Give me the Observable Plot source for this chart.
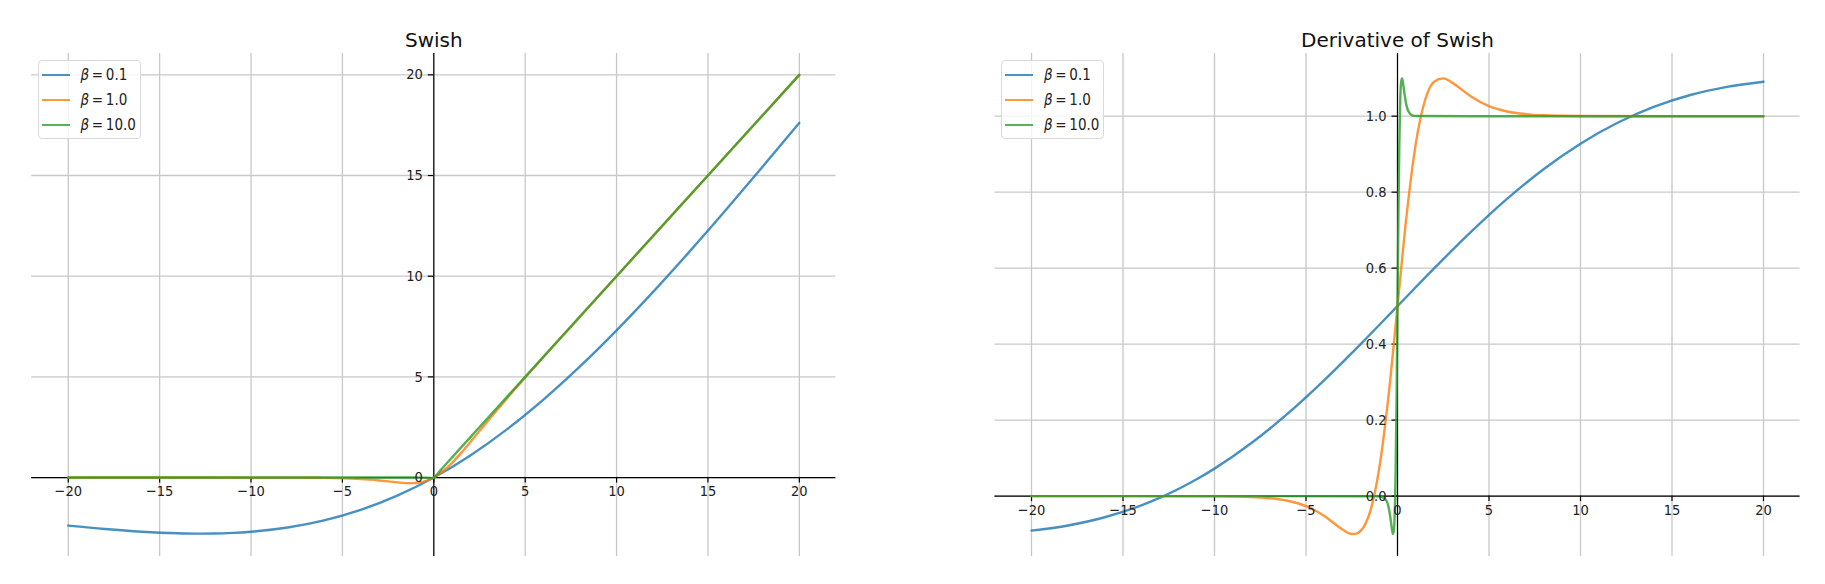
<!DOCTYPE html>
<html>
<head>
<meta charset="utf-8">
<script src="https://cdn.jsdelivr.net/npm/d3@7"></script>
<script src="https://cdn.jsdelivr.net/npm/@observablehq/plot@0.6"></script>
<style>
  body { margin: 0; background: #fff; }
  #fig { position: relative; width: 1825px; height: 584px; overflow: hidden; background: #fff; }
  .panel { position: absolute; top: 0; }
  .legend { position: absolute; border: 1px solid #d9d9d9; border-radius: 4px; background: rgba(255,255,255,0.8); box-sizing: border-box; }
  .legend .sw { position: absolute; height: 0; border-top-style: solid; }
  .legend .lb { position: absolute; font-family: "DejaVu Sans Condensed", "DejaVu Sans", sans-serif; font-size: 15px; color: #222; line-height: 1; white-space: nowrap; transform: translateY(-50%); }
</style>
</head>
<body>
<div id="fig"></div>
<script>
// ---- tick values ----
const xTicks = [-20, -15, -10, -5, 0, 5, 10, 15, 20];
const swishYTicks = [0, 5, 10, 15, 20];
const derivYTicks = [0, 0.2, 0.4, 0.6, 0.8, 1.0];

// ---- series labels / colours ----
const betas = ["0.1", "1.0", "10.0"];
const colors = ["#1f77b4", "#ff7f0e", "#2ca02c"];

// ---- beta = 0.1 ----
const xB01 = [-20, -18, -16, -14, -13, -12, -11, -10, -8, -6, -4, -2, 0, 2, 4, 6, 8, 10, 12, 14, 16, 18, 20];
const swishB01 = [-2.384, -2.554, -2.688, -2.769, -2.785, -2.778, -2.747, -2.689, -2.480, -2.126, -1.605, -0.900, 0, 1.100, 2.395, 3.874, 5.520, 7.311, 9.222, 11.231, 13.312, 15.446, 17.616];
const derivB01 = [-0.0908, -0.0773, -0.0557, -0.0243, -0.0046, 0.0180, 0.0436, 0.0723, 0.1389, 0.2170, 0.3052, 0.4007, 0.5, 0.5993, 0.6948, 0.7830, 0.8611, 0.9277, 0.9820, 1.0243, 1.0557, 1.0773, 1.0908];

// ---- beta = 1.0 ----
const xB1 = [-20, -15, -10, -9, -8, -7, -6, -5, -4.5, -4, -3.5, -3, -2.5, -2.25, -2, -1.5, -1.25, -1, -0.5, 0, 0.5, 1, 1.5, 2, 2.5, 3, 3.5, 4, 5, 6, 7, 8, 9, 10, 15, 20];
const swishB1 = [0, 0, -0.0005, -0.0011, -0.0027, -0.0064, -0.0148, -0.0335, -0.0495, -0.0719, -0.1026, -0.1423, -0.1897, -0.2145, -0.2384, -0.2736, -0.2784, -0.2689, -0.1888, 0, 0.3112, 0.7311, 1.2264, 1.7616, 2.3103, 2.8577, 3.3975, 3.9281, 4.9665, 5.9852, 6.9936, 7.9973, 8.9989, 9.9995, 15, 20];
const derivB1 = [0, 0, -0.0004, -0.0010, -0.0023, -0.0055, -0.0123, -0.0266, -0.0379, -0.0527, -0.0703, -0.0881, -0.0994, -0.0987, -0.0908, -0.0413, 0.0063, 0.0723, 0.2600, 0.5, 0.7400, 0.9277, 1.0413, 1.0908, 1.0994, 1.0881, 1.0703, 1.0527, 1.0265, 1.0123, 1.0055, 1.0023, 1.0010, 1.0004, 1, 1];

// ---- beta = 10.0 ----
const xB10 = [-20, -10, -1, -0.6, -0.5, -0.4, -0.3, -0.25, -0.2, -0.15, -0.125, -0.1, -0.05, 0, 0.05, 0.1, 0.15, 0.2, 0.25, 0.3, 0.4, 0.5, 0.6, 0.8, 1, 5, 10, 20];
const swishB10 = [0, 0, 0, -0.0015, -0.0034, -0.0072, -0.0142, -0.0190, -0.0238, -0.0274, -0.0278, -0.0269, -0.0189, 0, 0.0311, 0.0731, 0.1226, 0.1762, 0.2310, 0.2858, 0.3928, 0.4967, 0.5985, 0.7997, 1, 5, 10, 20];
const derivB10 = [0, 0, -0.0004, -0.0123, -0.0266, -0.0527, -0.0881, -0.0994, -0.0908, -0.0413, 0.0063, 0.0723, 0.2600, 0.5, 0.7400, 0.9277, 1.0413, 1.0908, 1.0994, 1.0881, 1.0527, 1.0265, 1.0123, 1.0023, 1.0004, 1, 1, 1];

function rows(xs, ys, beta) { return xs.map((x, i) => ({x, y: ys[i], beta})); }
const swishData = [...rows(xB01, swishB01, betas[0]), ...rows(xB1, swishB1, betas[1]), ...rows(xB10, swishB10, betas[2])];
const derivData = [...rows(xB01, derivB01, betas[0]), ...rows(xB1, derivB1, betas[1]), ...rows(xB10, derivB10, betas[2])];

const tickFont = '"DejaVu Sans Condensed", "DejaVu Sans", sans-serif';
const minus = d => String(d).replace("-", "\u2212");

function panel({data, yDomain, yTicks, yFmt, title, width, ml, mr}) {
  const axisStyle = {stroke: "black", strokeWidth: 1.2};
  return Plot.plot({
    width, height: 584,
    marginLeft: ml, marginRight: mr, marginTop: 53, marginBottom: 28,
    x: {domain: [-22, 22], axis: null},
    y: {domain: yDomain, axis: null},
    color: {domain: betas, range: colors},
    style: {background: "transparent", overflow: "visible"},
    marks: [
      Plot.gridX(xTicks, {stroke: "#c8c8c8", strokeOpacity: 1, strokeWidth: 1.3}),
      Plot.gridY(yTicks, {stroke: "#c8c8c8", strokeOpacity: 1, strokeWidth: 1.3}),
      Plot.ruleY([0], axisStyle),
      Plot.ruleX([0], axisStyle),
      Plot.ruleX(xTicks, {x: d => d, y1: 0, y2: 0, insetBottom: -5.5, ...axisStyle}),
      Plot.ruleY(yTicks, {y: d => d, x1: 0, x2: 0, insetLeft: -5.5, ...axisStyle}),
      Plot.line(data, {x: "x", y: "y", z: "beta", stroke: "beta", strokeWidth: 2.4, strokeOpacity: 0.82, curve: "monotone-x"}),
      Plot.text(xTicks, {x: d => d, y: 0, text: d => minus(d), dy: 14, fontSize: 14.5, fontFamily: tickFont, fill: "#222"}),
      Plot.text(yTicks, {x: 0, y: d => d, text: yFmt, textAnchor: "end", dx: -11, fontSize: 14.5, fontFamily: tickFont, fill: "#222"}),
      Plot.text([title], {frameAnchor: "top", lineAnchor: "bottom", dy: -7, fontSize: 20, fontFamily: '"DejaVu Sans", sans-serif', fill: "#111"})
    ]
  });
}

const fig = document.getElementById("fig");

const left = panel({data: swishData, yDomain: [-3.92, 21.06], yTicks: swishYTicks, yFmt: d => String(d), title: "Swish", width: 900, ml: 31.2, mr: 64.6});
left.classList.add("panel"); left.style.left = "0px";
fig.appendChild(left);

const right = panel({data: derivData, yDomain: [-0.159, 1.165], yTicks: derivYTicks, yFmt: d => d.toFixed(1), title: "Derivative of Swish", width: 900, ml: 69.4, mr: 25.4});
right.classList.add("panel"); right.style.left = "925px";
fig.appendChild(right);

function legend(leftPx) {
  const box = document.createElement("div");
  box.className = "legend";
  Object.assign(box.style, {left: leftPx + "px", top: "60px", width: "103px", height: "79px"});
  betas.forEach((b, i) => {
    const cy = 14 + i * 25;
    const sw = document.createElement("div");
    sw.className = "sw";
    Object.assign(sw.style, {left: "3px", width: "28px", top: (cy - 1.2) + "px", borderTopWidth: "2.4px", borderTopColor: colors[i], opacity: 0.8});
    const lb = document.createElement("div");
    lb.className = "lb";
    lb.style.left = "42px"; lb.style.top = cy + "px";
    lb.innerHTML = '<i>\u03b2</i>\u2009=\u2009' + b;
    box.appendChild(sw); box.appendChild(lb);
  });
  fig.appendChild(box);
}
legend(37.5);
legend(1001);
</script>
</body>
</html>
